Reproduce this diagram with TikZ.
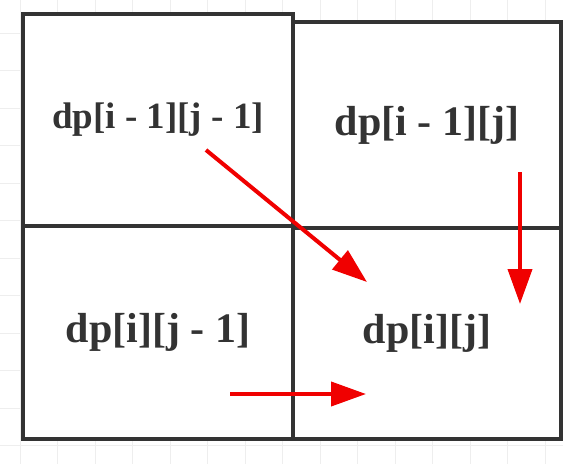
\documentclass[tikz,border=0pt]{standalone}
\usepackage{fontspec}
\setmainfont{Liberation Serif}
\usetikzlibrary{arrows.meta}
\definecolor{ink}{HTML}{333333}
\definecolor{gridc}{HTML}{EEEEEE}
\definecolor{arrowred}{HTML}{F00000}
\tikzset{
  cell/.style={draw=ink, line width=4pt, fill=white, anchor=north west, inner sep=0pt,
    text=ink, font=\bfseries\fontsize{42}{42}\selectfont},
  smallcell/.style={cell, font=\bfseries\fontsize{37}{37}\selectfont},
  redarrow/.style={draw=arrowred, line width=4pt, -{Triangle[length=35pt,width=24pt]}},
  gridline/.style={draw=gridc, line width=1pt}
}
\begin{document}
\begin{tikzpicture}[x=1pt,y=-1pt]
\useasboundingbox[fill=white] (0,0) rectangle (563,464);
% background grid
\foreach \gx in {20,57.5,...,563} { \draw[gridline] (\gx,0) -- (\gx,464); }
\foreach \gy in {33,70.5,...,464} { \draw[gridline] (0,\gy) -- (563,\gy); }
% cells
\node[smallcell, minimum width=270pt, minimum height=212pt] (tl) at (21,12) {dp[i - 1][j - 1]};
\node[cell, minimum width=268pt, minimum height=206pt] (tr) at (291,20) {dp[i - 1][j]};
\node[cell, minimum width=270pt, minimum height=213pt] (bl) at (21,224) {dp[i][j - 1]};
\node[cell, minimum width=268pt, minimum height=211pt] (br) at (291,226) {dp[i][j]};
% arrows
\coordinate (a1) at (206,150);
\coordinate (a2) at (367,282);
\coordinate (b1) at (520,172);
\coordinate (b2) at (520,304);
\coordinate (c1) at (230,394);
\coordinate (c2) at (366,394);
\draw[redarrow] (a1) -- (a2);
\draw[redarrow] (b1) -- (b2);
\draw[redarrow] (c1) -- (c2);
\end{tikzpicture}
\end{document}
